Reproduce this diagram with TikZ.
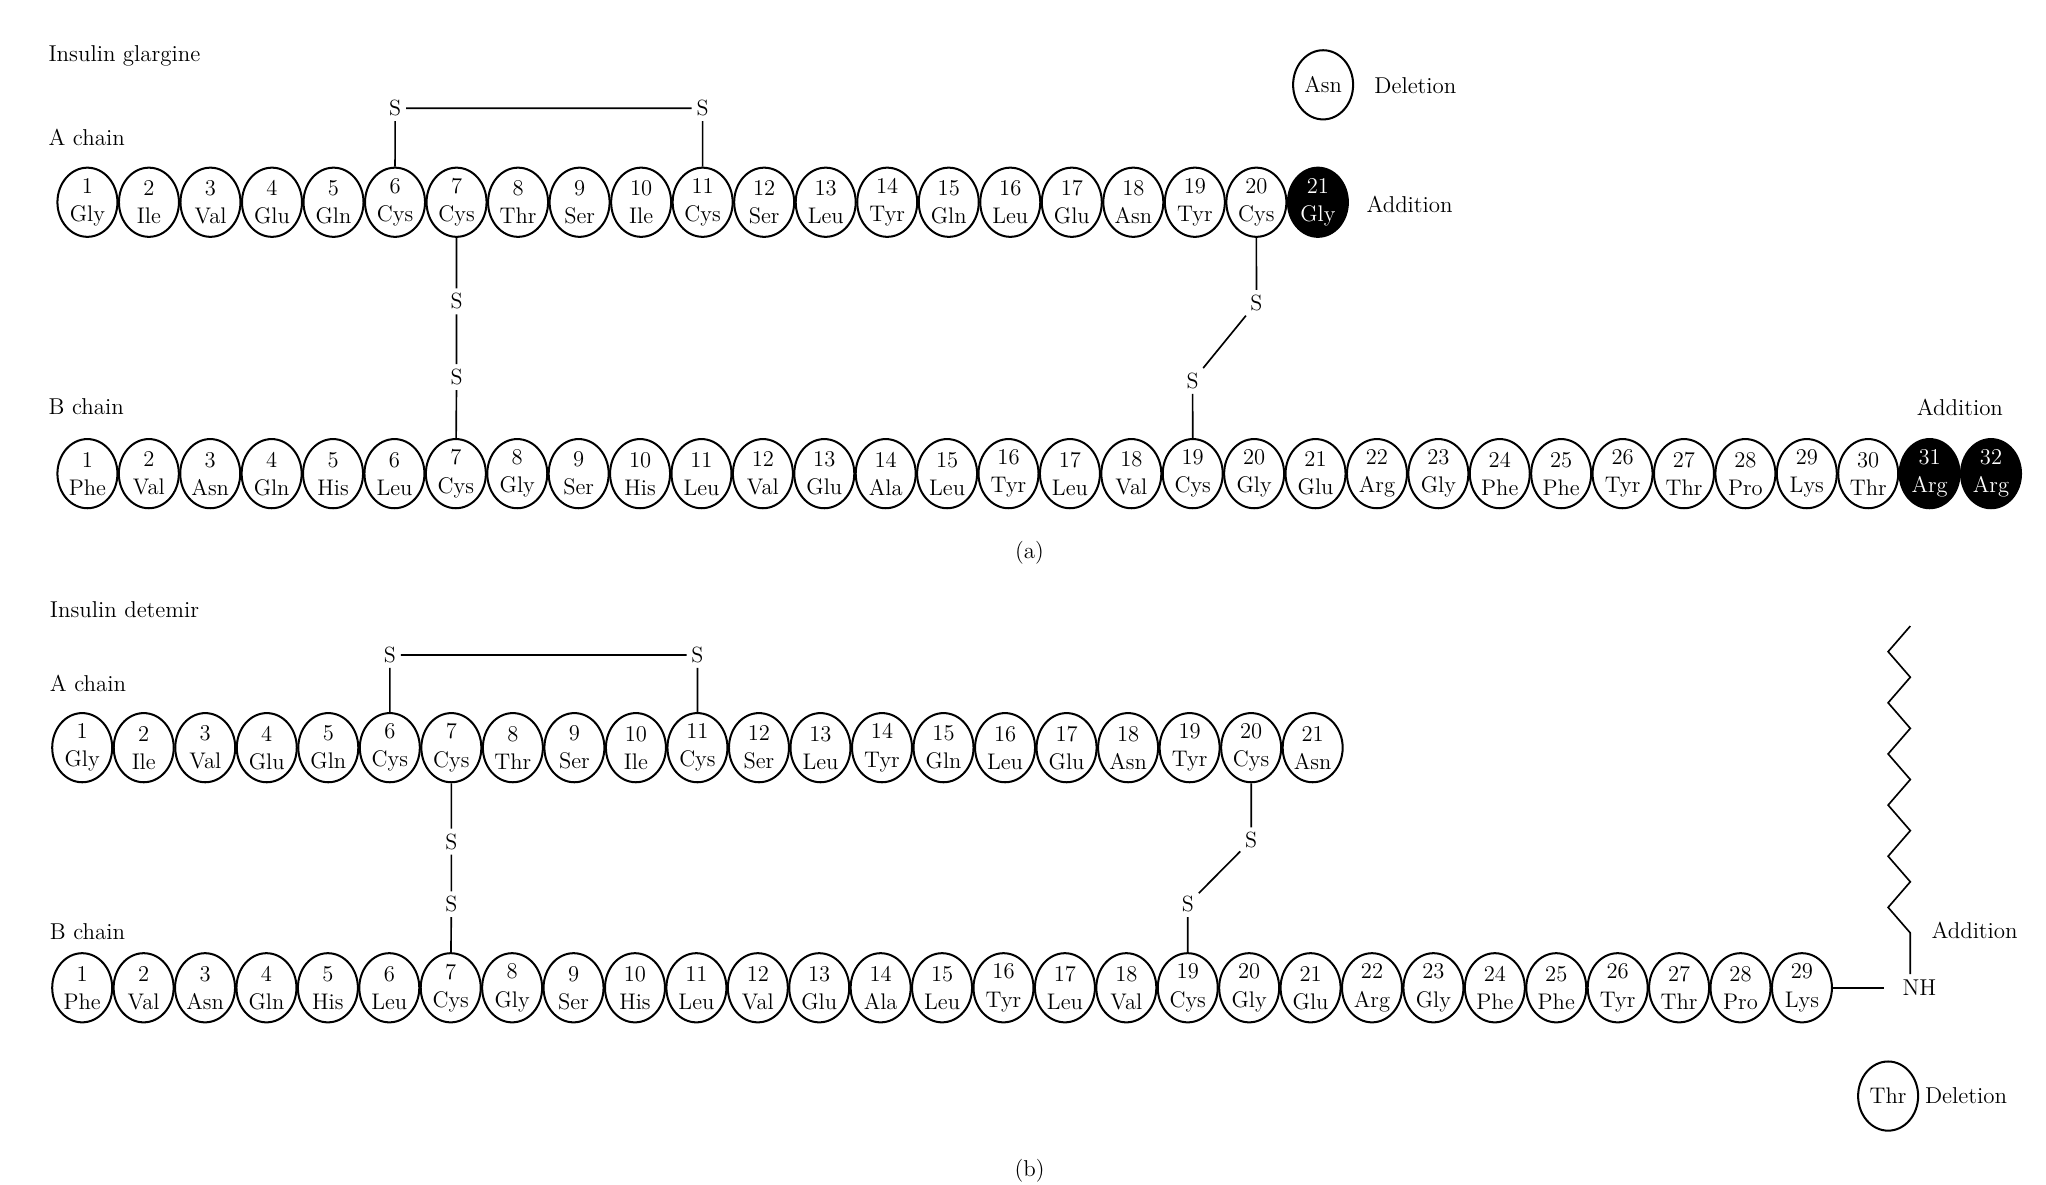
\documentclass[tikz,border=0pt]{standalone}
\usetikzlibrary{shapes.geometric}
\tikzset{
	res/.style={draw, ellipse, line width=1.1pt, minimum width=32.7pt, minimum height=37.7pt,
		inner xsep=0pt, inner ysep=-5pt, align=center, font=\fontsize{12.3}{15.3}\selectfont},
	added/.style={res, fill=black, text=white},
	sul/.style={inner sep=2.5pt, font=\fontsize{12}{14}\selectfont},
	lbl/.style={inner sep=0pt, font=\fontsize{12.5}{15}\selectfont},
	bond/.style={line width=0.9pt}
}
\begin{document}
\begin{tikzpicture}[x=0.025cm, y=-0.025cm]
	\useasboundingbox (0,0) rectangle (1568,908.1);
	
	%(a) insulin glargine
	\node[lbl, anchor=west] (titlea) at (37,43) {Insulin glargine};
	\node[lbl, anchor=west] (achaina) at (37,105) {A chain};
	\node[lbl, anchor=west] (bchaina) at (37,312) {B chain};
	
	\foreach \n/\amino in {1/Gly, 2/Ile, 3/Val, 4/Glu, 5/Gln, 6/Cys, 7/Cys, 8/Thr, 9/Ser, 10/Ile,
		11/Cys, 12/Ser, 13/Leu, 14/Tyr, 15/Gln, 16/Leu, 17/Glu, 18/Asn, 19/Tyr, 20/Cys}{
		\node[res] (ga\n) at ({67+(\n-1)*47.15}, 155) {\n\\\amino};
	}
	\node[added] (ga21) at ({67+20*47.15}, 155) {21\\Gly};
	
	\foreach \n/\amino in {1/Phe, 2/Val, 3/Asn, 4/Gln, 5/His, 6/Leu, 7/Cys, 8/Gly, 9/Ser, 10/His,
		11/Leu, 12/Val, 13/Glu, 14/Ala, 15/Leu, 16/Tyr, 17/Leu, 18/Val, 19/Cys, 20/Gly,
		21/Glu, 22/Arg, 23/Gly, 24/Phe, 25/Phe, 26/Tyr, 27/Thr, 28/Pro, 29/Lys, 30/Thr}{
		\node[res] (gb\n) at ({67+(\n-1)*47.06}, 363) {\n\\\amino};
	}
	\node[added] (gb31) at ({67+30*47.06}, 363) {31\\Arg};
	\node[added] (gb32) at ({67+31*47.06}, 363) {32\\Arg};
	
	%disulfide bridges
	\node[sul] (sa1) at (302.8,83) {S};
	\node[sul] (sa2) at (538.5,83) {S};
	\node[sul] (sa3) at (349.9,231) {S};
	\node[sul] (sa4) at (349.9,289) {S};
	\node[sul] (sa5) at (962.9,232) {S};
	\node[sul] (sa6) at (914,292) {S};
	\draw[bond] (ga6) -- (sa1) -- (sa2) -- (ga11);
	\draw[bond] (ga7) -- (sa3) -- (sa4) -- (gb7);
	\draw[bond] (ga20) -- (sa5) -- (sa6) -- (gb19);
	
	\node[res] (dela) at (1014,65) {Asn};
	\node[lbl, anchor=west] (dellbla) at (1053,66) {Deletion};
	\node[lbl, anchor=west] (addlbla) at (1047,157) {Addition};
	\node[lbl] (addlblb) at (1502,312) {Addition};
	\node[lbl] (capa) at (789,424) {(a)};
	
	%(b) insulin detemir
	\node[lbl, anchor=west] (titleb) at (38,467) {Insulin detemir};
	\node[lbl, anchor=west] (achainb) at (38,524) {A chain};
	\node[lbl, anchor=west] (bchainb) at (38,714) {B chain};
	
	\foreach \n/\amino in {1/Gly, 2/Ile, 3/Val, 4/Glu, 5/Gln, 6/Cys, 7/Cys, 8/Thr, 9/Ser, 10/Ile,
		11/Cys, 12/Ser, 13/Leu, 14/Tyr, 15/Gln, 16/Leu, 17/Glu, 18/Asn, 19/Tyr, 20/Cys, 21/Asn}{
		\node[res] (da\n) at ({63+(\n-1)*47.15}, 573) {\n\\\amino};
	}
	
	\foreach \n/\amino in {1/Phe, 2/Val, 3/Asn, 4/Gln, 5/His, 6/Leu, 7/Cys, 8/Gly, 9/Ser, 10/His,
		11/Leu, 12/Val, 13/Glu, 14/Ala, 15/Leu, 16/Tyr, 17/Leu, 18/Val, 19/Cys, 20/Gly,
		21/Glu, 22/Arg, 23/Gly, 24/Phe, 25/Phe, 26/Tyr, 27/Thr, 28/Pro, 29/Lys}{
		\node[res] (db\n) at ({63+(\n-1)*47.07}, 757) {\n\\\amino};
	}
	
	%disulfide bridges
	\node[sul] (sb1) at (298.8,502) {S};
	\node[sul] (sb2) at (534.5,502) {S};
	\node[sul] (sb3) at (345.9,645) {S};
	\node[sul] (sb4) at (345.9,693) {S};
	\node[sul] (sb5) at (958.9,644) {S};
	\node[sul] (sb6) at (910.3,693) {S};
	\draw[bond] (da6) -- (sb1) -- (sb2) -- (da11);
	\draw[bond] (da7) -- (sb3) -- (sb4) -- (db7);
	\draw[bond] (da20) -- (sb5) -- (sb6) -- (db19);
	
	%fatty acid chain
	\node[lbl, inner xsep=10pt, inner ysep=3pt] (nh) at (1471,757) {NH};
	\draw[bond] (db29) -- (nh);
	\coordinate (zz) at (1464,715);
	\draw[bond] (nh.north -| zz) -- (zz)
		\foreach \k in {1,...,12}{ -- ({1464-17*mod(\k,2)}, {715-19.6*\k}) };
	
	\node[res] (delb) at (1447,840) {Thr};
	\node[lbl, anchor=west] (dellblb) at (1475,840) {Deletion};
	\node[lbl, anchor=west] (addlblc) at (1480,713) {Addition};
	\node[lbl] (capb) at (789,897) {(b)};
\end{tikzpicture}
\end{document}
